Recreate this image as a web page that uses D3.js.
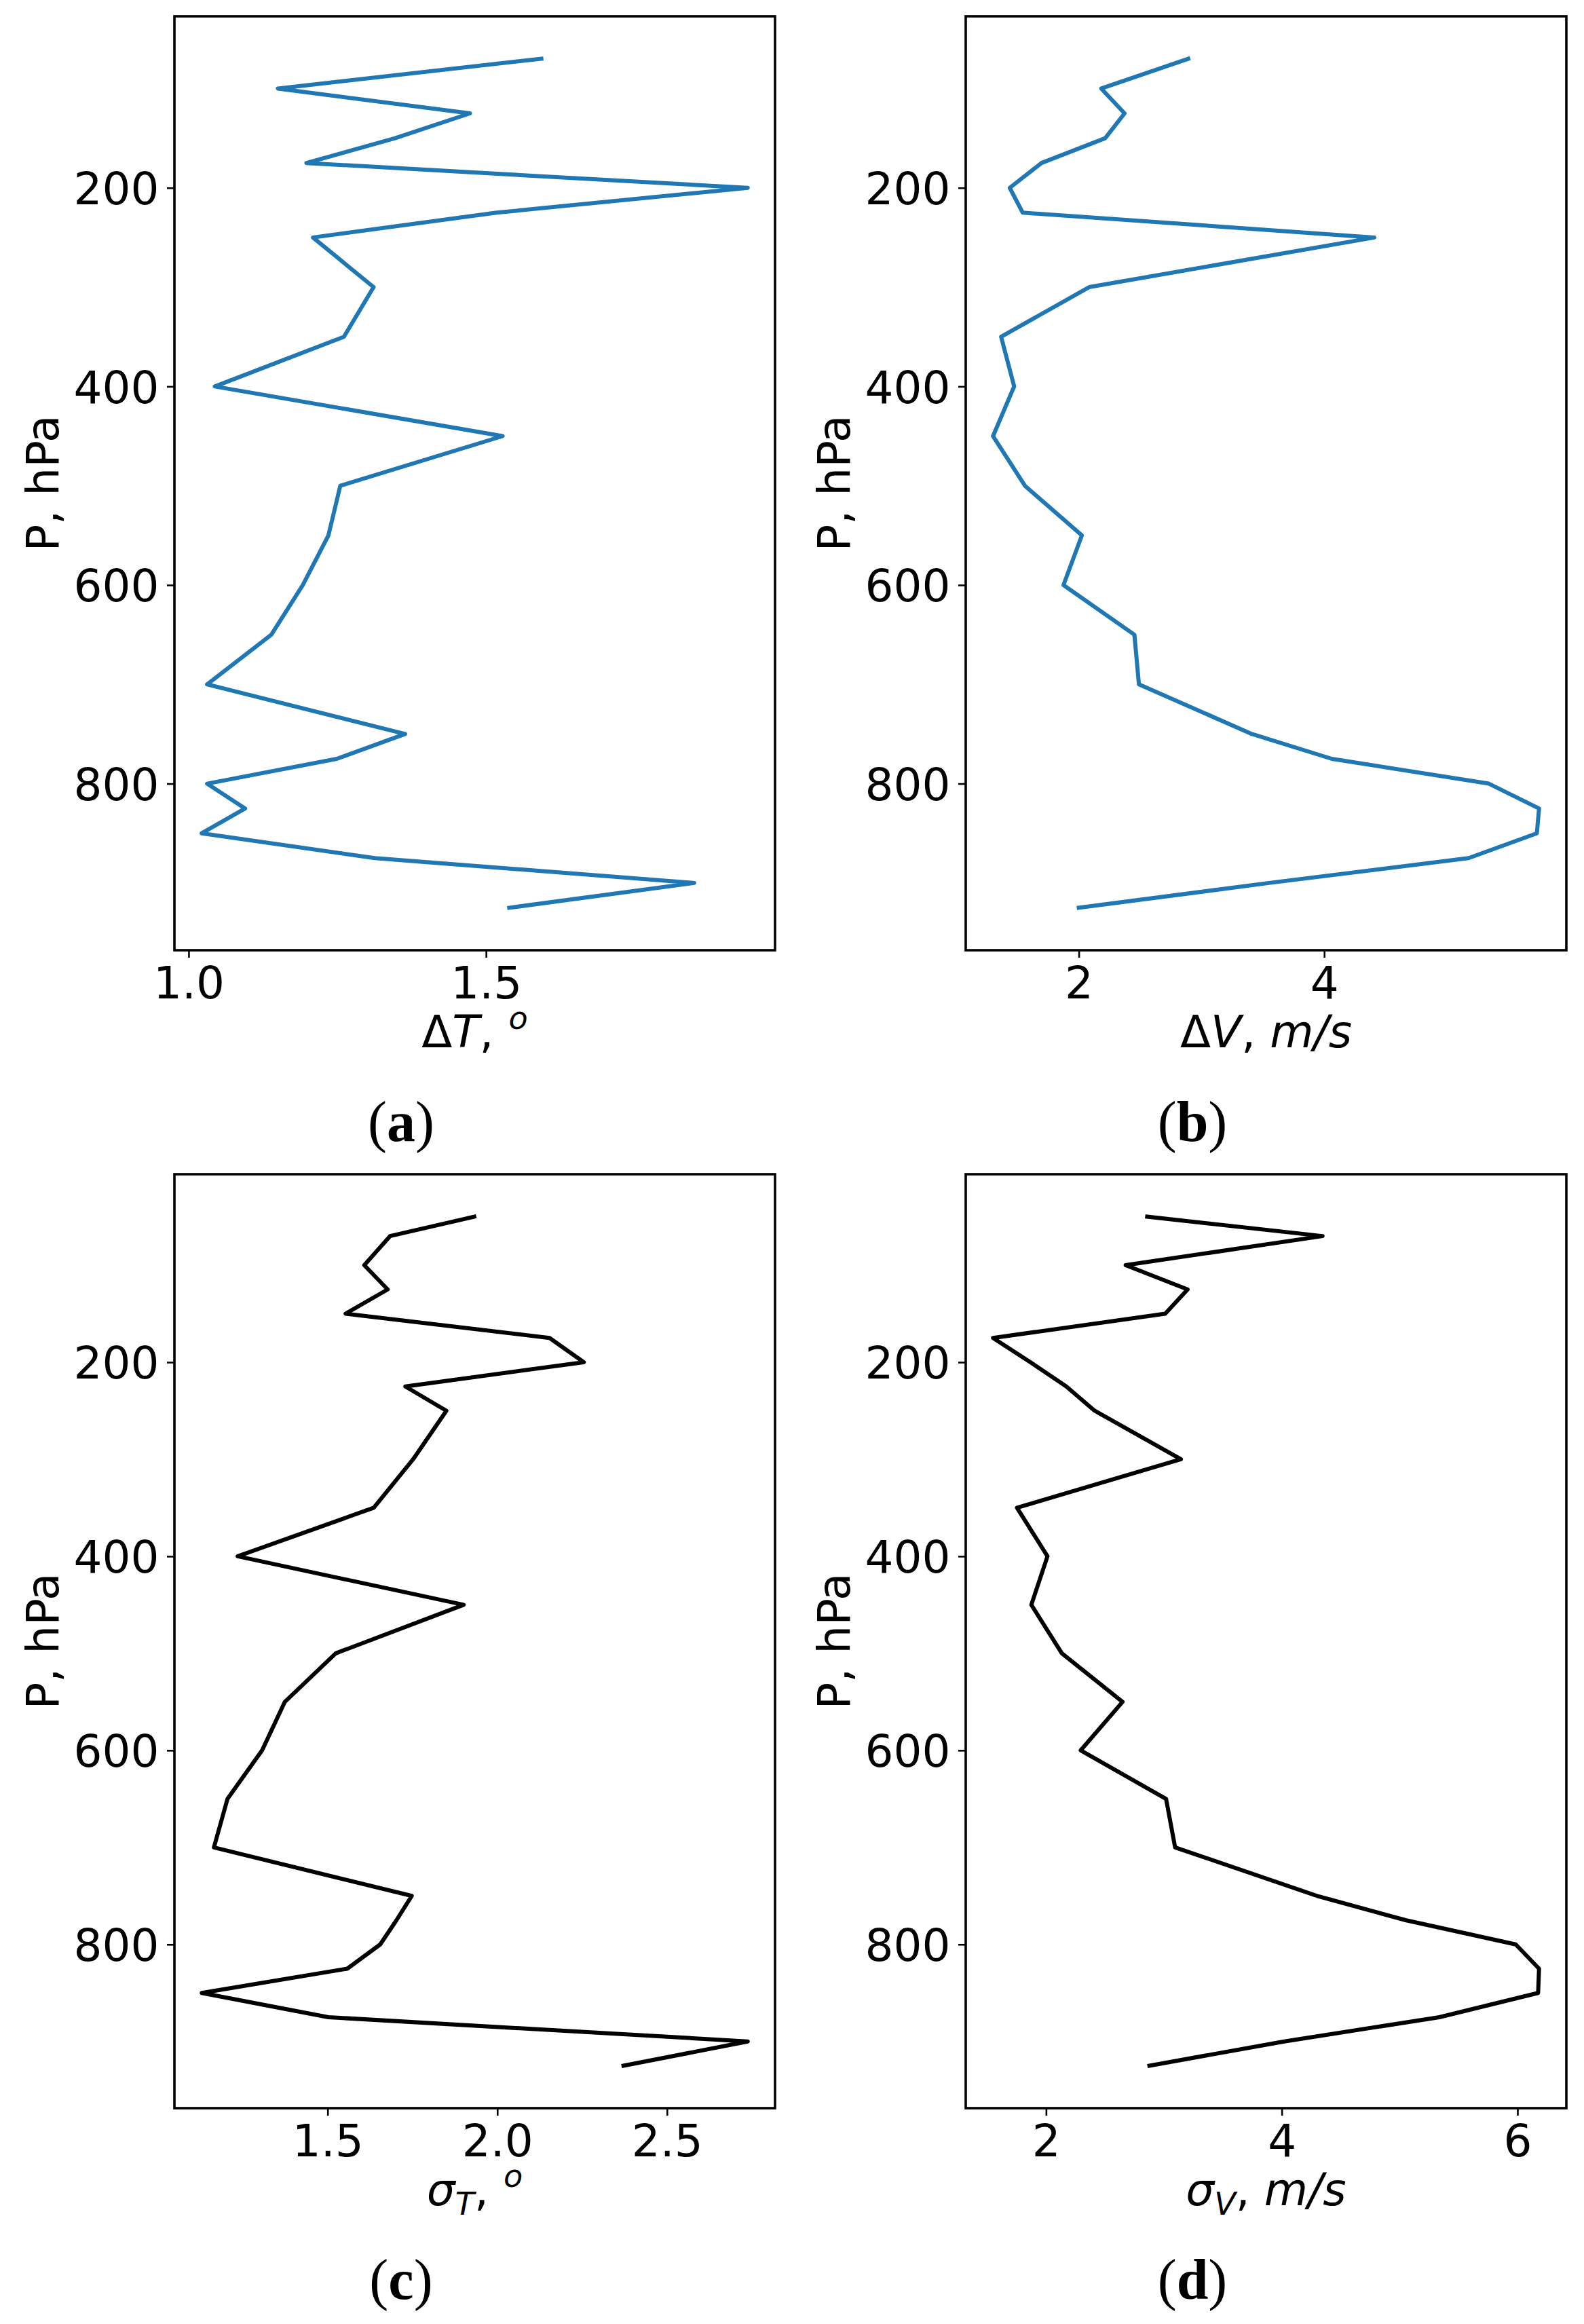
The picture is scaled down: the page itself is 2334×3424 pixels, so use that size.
<!DOCTYPE html>
<html>
<head>
<meta charset="utf-8">
<script src="https://cdn.jsdelivr.net/npm/d3@7"></script>
<style>
  body { margin: 0; background: #fff; }
  text { font-family: "DejaVu Sans"; }
</style>
</head>
<body>
<script>
// pressure levels, hPa
var levelsAB = [70, 100, 125, 150, 175, 200, 225, 250, 300, 350, 400, 450, 500,
  550, 600, 650, 700, 750, 775, 800, 825, 850, 875, 900, 925];
var levelsCD = [50, 70, 100, 125, 150, 175, 200, 225, 250, 300, 350, 400, 450, 500,
  550, 600, 650, 700, 750, 775, 800, 825, 850, 875, 900, 925];

// (a) dT, (b) dV, (c) sigma T, (d) sigma V
var deltaT = [1.593, 1.150, 1.473, 1.347, 1.198, 1.940, 1.518, 1.209, 1.311, 1.261, 1.044, 1.528, 1.255,
  1.235, 1.192, 1.139, 1.031, 1.364, 1.249, 1.031, 1.095, 1.022, 1.313, 1.850, 1.539];
var deltaV = [2.892, 2.183, 2.373, 2.215, 1.696, 1.437, 1.543, 4.409, 2.084, 1.367, 1.473, 1.301, 1.561,
  2.025, 1.875, 2.453, 2.490, 3.411, 4.062, 5.342, 5.751, 5.733, 5.177, 3.55, 2.0];
var sigmaT = [1.932, 1.684, 1.608, 1.677, 1.553, 2.154, 2.255, 1.729, 1.850, 1.752, 1.636, 1.235, 1.901, 1.524,
  1.374, 1.307, 1.205, 1.165, 1.748, 1.703, 1.655, 1.558, 1.129, 1.502, 2.738, 2.372];
var sigmaV = [2.858, 4.346, 2.675, 3.201, 3.011, 1.550, 1.867, 2.172, 2.412, 3.144, 1.753, 2.012, 1.875, 2.134,
  2.649, 2.294, 3.018, 3.095, 4.30, 5.05, 5.985, 6.183, 6.175, 5.337, 4.021, 2.877];

// tick labels
var yTicks = [200, 400, 600, 800];
var xTicksA = [1.0, 1.5];
var xTicksB = [2, 4];
var xTicksC = [1.5, 2.0, 2.5];
var xTicksD = [2, 4, 6];
var captions = ['a', 'b', 'c', 'd'];

var width = 2334, height = 3424;
var boxW = 885, boxH = 1376;
var fontSize = 66;

var svg = d3.select('body').append('svg')
  .attr('width', width)
  .attr('height', height);

svg.append('rect').attr('width', width).attr('height', height).attr('fill', '#fff');

// sup: text drawn as a raised superscript after the main label
var panels = [
  {levels: levelsAB, values: deltaT, ticks: xTicksA, fmt: d3.format('.1f'), color: '#1f77b4',
   left: 257, top: 24, capX: 591,
   label: [{t: 'Δ'}, {t: 'T', i: true}, {t: ','}], sup: 'o'},
  {levels: levelsAB, values: deltaV, ticks: xTicksB, fmt: d3.format('d'), color: '#1f77b4',
   left: 1423, top: 24, capX: 1757,
   label: [{t: 'Δ'}, {t: 'V', i: true}, {t: ', '}, {t: 'm/s', i: true}]},
  {levels: levelsCD, values: sigmaT, ticks: xTicksC, fmt: d3.format('.1f'), color: '#000',
   left: 257, top: 1730, capX: 591,
   label: [{t: 'σ', i: true}, {t: 'T', i: true, sub: true}, {t: ','}], sup: 'o'},
  {levels: levelsCD, values: sigmaV, ticks: xTicksD, fmt: d3.format('d'), color: '#000',
   left: 1423, top: 1730, capX: 1757,
   label: [{t: 'σ', i: true}, {t: 'V', i: true, sub: true}, {t: ', '}, {t: 'm/s', i: true}]}
];

function styleAxis(ax) {
  ax.select('.domain').remove();
  ax.attr('font-size', fontSize).attr('font-family', 'DejaVu Sans');
  ax.selectAll('.tick line').attr('stroke', '#000').attr('stroke-width', 2.6);
  ax.selectAll('.tick text').attr('fill', '#000');
}

function drawPanel(p, k) {
  var g = svg.append('g').attr('transform', 'translate(' + p.left + ',' + p.top + ')');

  // matplotlib style 5% margins
  var xe = d3.extent(p.values), xm = (xe[1] - xe[0]) * 0.05;
  var x = d3.scaleLinear().domain([xe[0] - xm, xe[1] + xm]).range([0, boxW]);
  var ye = d3.extent(p.levels), ym = (ye[1] - ye[0]) * 0.05;
  var y = d3.scaleLinear().domain([ye[0] - ym, ye[1] + ym]).range([0, boxH]);

  var line = d3.line()
    .x(function(d) { return x(d[1]); })
    .y(function(d) { return y(d[0]); });

  g.append('path')
    .datum(d3.zip(p.levels, p.values))
    .attr('d', line)
    .attr('fill', 'none')
    .attr('stroke', p.color)
    .attr('stroke-width', 6)
    .attr('stroke-linejoin', 'round')
    .attr('stroke-linecap', 'square');

  var xa = g.append('g')
    .attr('transform', 'translate(0,' + boxH + ')')
    .call(d3.axisBottom(x).tickValues(p.ticks).tickFormat(p.fmt).tickSize(11).tickPadding(13));
  styleAxis(xa);

  var ya = g.append('g')
    .call(d3.axisLeft(y).tickValues(yTicks).tickFormat(d3.format('d')).tickSize(11).tickPadding(11.5));
  styleAxis(ya);
  ya.selectAll('.tick text').attr('dy', '0.36em');

  g.append('rect')
    .attr('width', boxW).attr('height', boxH)
    .attr('fill', 'none').attr('stroke', '#000').attr('stroke-width', 3.6);

  // y label
  g.append('text')
    .attr('transform', 'translate(-171,' + (boxH / 2) + ') rotate(-90)')
    .attr('text-anchor', 'middle')
    .attr('font-size', fontSize)
    .text('P, hPa');

  // x label, mathtext-ish
  var xl = g.append('text')
    .attr('y', boxH + 143)
    .attr('font-size', fontSize);
  var off = 0;
  p.label.forEach(function(part) {
    var target = part.sub ? 14 : 0;
    xl.append('tspan')
      .attr('dy', target - off)
      .attr('font-style', part.i ? 'italic' : 'normal')
      .attr('font-size', part.sub ? fontSize * 0.7 : fontSize)
      .text(part.t);
    off = target;
  });
  var mainW = xl.node().getComputedTextLength();
  var gap = 22;
  var sup = null, supW = 0;
  if (p.sup) {
    sup = g.append('text')
      .attr('y', boxH + 143 - 27)
      .attr('font-size', fontSize * 0.7)
      .attr('font-style', 'italic')
      .text(p.sup);
    supW = sup.node().getComputedTextLength() + gap;
  }
  var x0 = boxW / 2 - (mainW + supW) / 2;
  xl.attr('x', x0);
  if (sup) sup.attr('x', x0 + mainW + gap);

  // caption
  var cap = svg.append('text')
    .attr('x', p.capX).attr('y', p.top + boxH + 281)
    .attr('text-anchor', 'middle')
    .style('font-family', '"Liberation Serif", "DejaVu Serif", serif')
    .attr('font-size', 84);
  cap.append('tspan').text('(');
  cap.append('tspan').attr('font-weight', 'bold').text(captions[k]);
  cap.append('tspan').text(')');
}

panels.forEach(drawPanel);
</script>
</body>
</html>
